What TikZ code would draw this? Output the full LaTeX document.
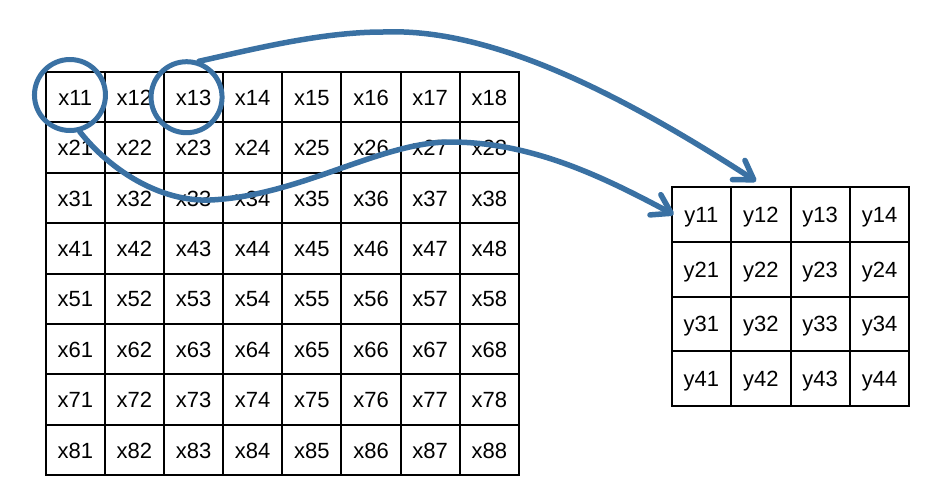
\documentclass[tikz,border=0pt]{standalone}
\usepackage{fontspec}
\setmainfont{Liberation Sans}
\usetikzlibrary{arrows.meta}
\definecolor{arrowblue}{RGB}{58,113,163}
\begin{document}
\begin{tikzpicture}[x=1pt,y=-1pt,
  cellx/.style={draw, line width=2pt, minimum width=59.15pt, minimum height=50.4pt,
    inner sep=0pt, text height=16pt, text depth=0pt, font=\fontsize{22}{26}\selectfont},
  celly/.style={cellx, minimum width=59.4pt, minimum height=54.6pt},
  ring/.style={draw=arrowblue, line width=5pt, circle, minimum size=71pt, inner sep=0pt},
  flow/.style={draw=arrowblue, line width=5.5pt, line cap=round,
    -{Straight Barb[length=18pt,width=23pt,line cap=round,line join=round]}}]
\useasboundingbox (0,0) rectangle (933,498);
\foreach \i in {1,...,8}{\foreach \j in {1,...,8}{
  \node[cellx] (x\i\j) at ({45.7+(\j-0.5)*59.15},{72+(\i-0.5)*50.4}) {x\i\j};
}}
\foreach \i in {1,...,4}{\foreach \j in {1,...,4}{
  \node[celly] (y\i\j) at ({671.7+(\j-0.5)*59.4},{187.3+(\i-0.5)*54.6}) {y\i\j};
}}
\node[ring] (c1) at ([xshift=-5.3pt,yshift=2.2pt]x11.center) {};
\node[ring] (c2) at ([xshift=-7pt]x13.center) {};
\coordinate (t1) at ([xshift=26pt,yshift=5pt]y12.north west);
\coordinate (t2) at ([xshift=3pt]y11.west);
\draw[flow] (c2.71) .. controls (250,50) and (320,32) .. (383,32)
  .. controls (480,28) and (600,80) .. (t1);
\draw[flow] (c1.-75) .. controls (110,170) and (160,202) .. (210,200)
  .. controls (300,196) and (380,142) .. (450,142)
  .. controls (530,142) and (600,175) .. (t2);
\end{tikzpicture}
\end{document}
